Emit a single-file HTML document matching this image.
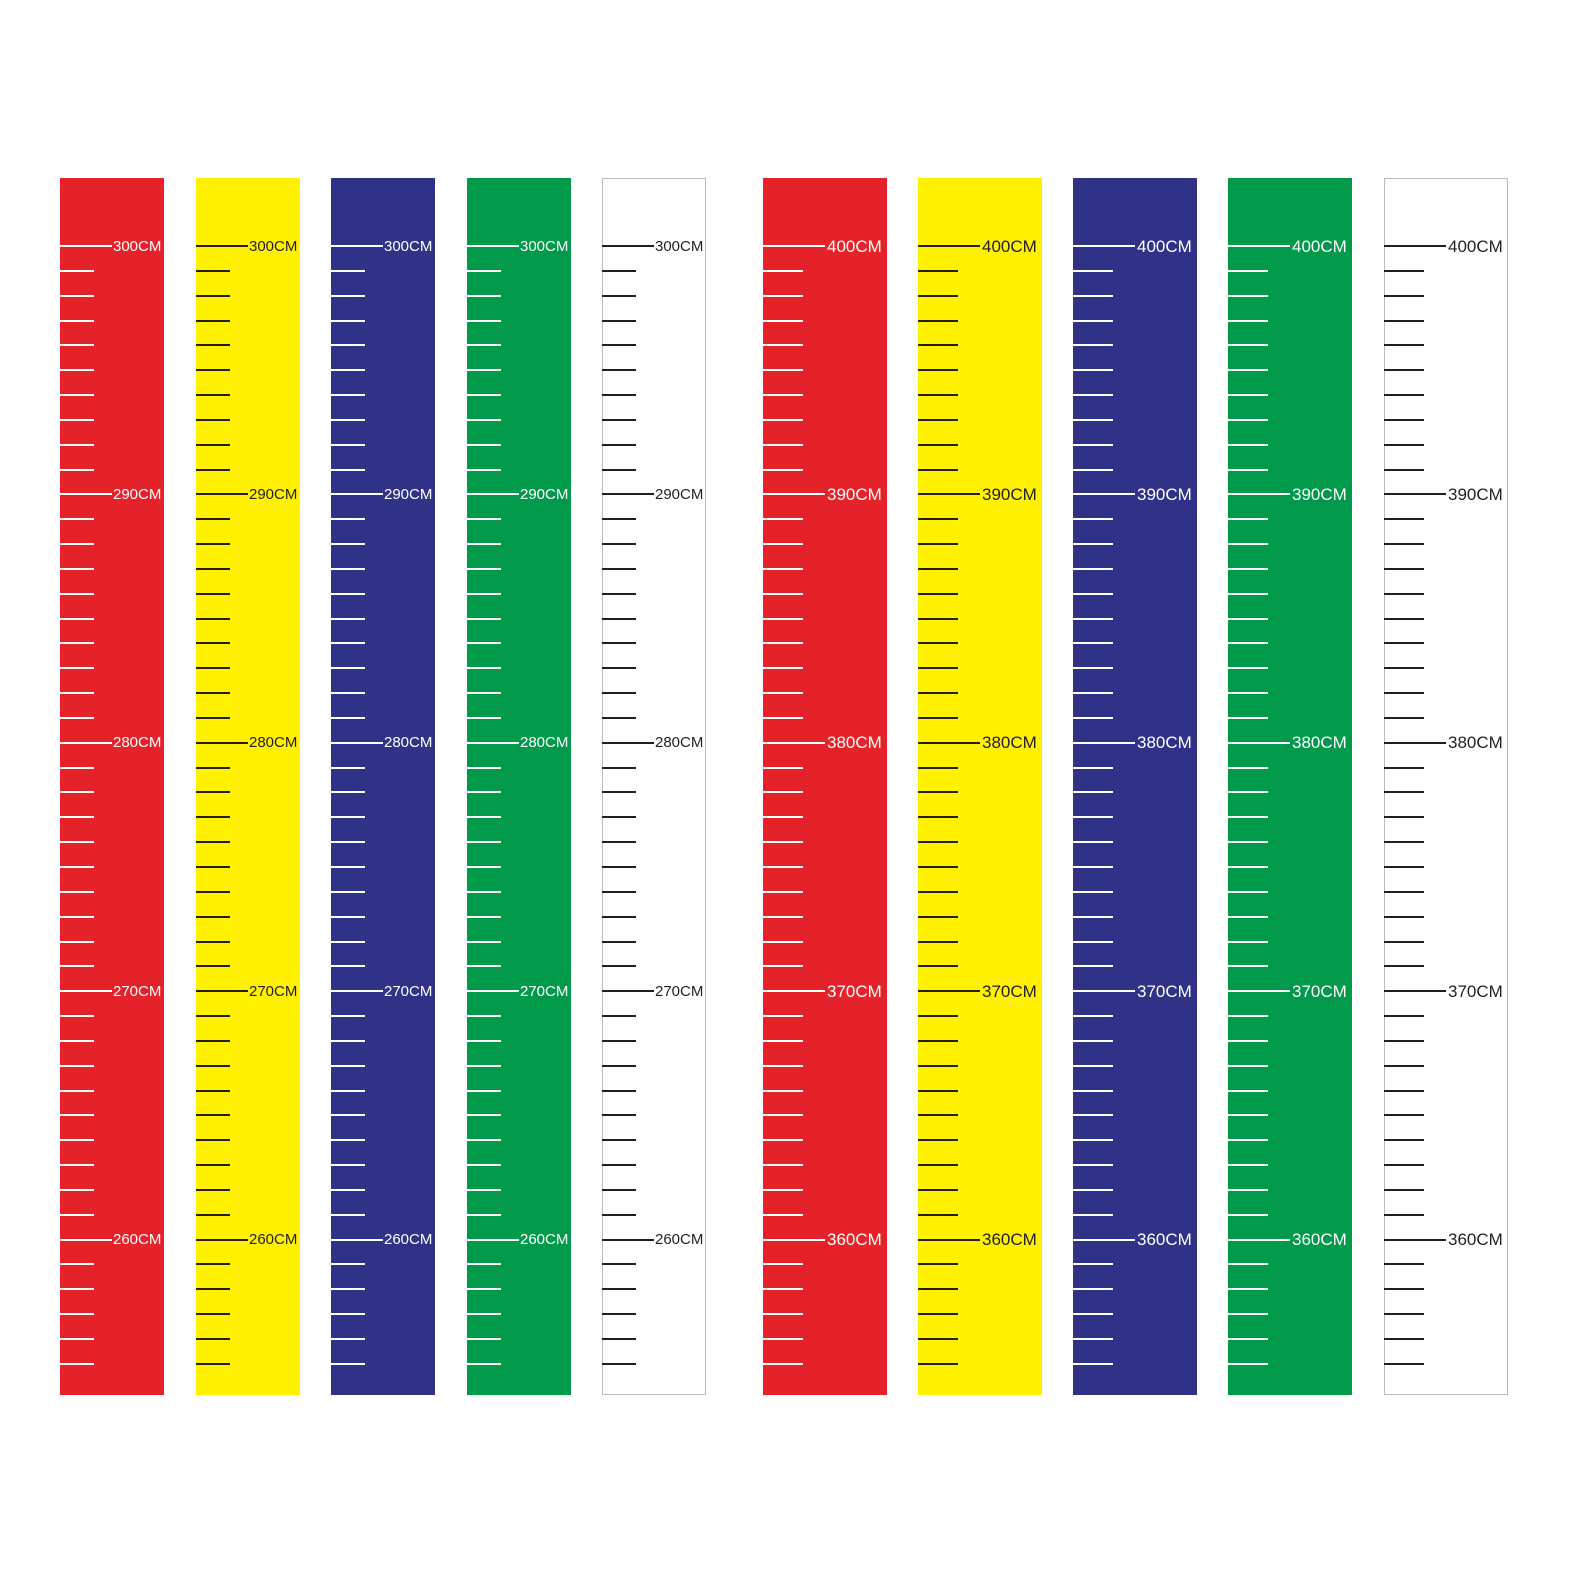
<!DOCTYPE html>
<html><head><meta charset="utf-8"><style>
html,body{margin:0;padding:0;background:#fff}
body{width:1574px;height:1574px;position:relative;overflow:hidden;font-family:"Liberation Sans",sans-serif}
.s{position:absolute;top:178px;height:1217px;box-sizing:border-box}
.m{position:absolute;height:2px}
.l{position:absolute;line-height:1;white-space:nowrap}
</style></head><body>
<div id="root"></div>
<script>
var strips=[
[60,104,'#e52229','#fff',34,52],
[196,104,'#fff100','#231f20',34,52],
[331,104,'#303288','#fff',34,52],
[467,104,'#009a4a','#fff',34,52],
[602,104,'#ffffff','#231f20',34,52],
[763,124,'#e52229','#fff',40,62],
[918,124,'#fff100','#231f20',40,62],
[1073,124,'#303288','#fff',40,62],
[1228,124,'#009a4a','#fff',40,62],
[1384,124,'#ffffff','#231f20',40,62]];
var h='';
strips.forEach(function(s){
 var border=s[2]=='#ffffff'?'border:1px solid #bbb;':'';
 h+='<div class="s" style="left:'+s[0]+'px;width:'+s[1]+'px;background:'+s[2]+';'+border+'"></div>';
 for(var k=0;k<46;k++){
  var y=Math.round(245+k*24.84);
  var w=(k%10==0)?s[5]:s[4];
  h+='<div class="m" style="left:'+s[0]+'px;top:'+y+'px;width:'+w+'px;background:'+s[3]+'"></div>';
 }
});
document.getElementById('root').innerHTML=h;
</script>
<div style="position:absolute;left:0;top:0;color:#fff;font-size:15px">
<span class="l" style="left:113px;top:239px">300CM</span><span class="l" style="left:113px;top:487px">290CM</span><span class="l" style="left:113px;top:735px">280CM</span><span class="l" style="left:113px;top:984px">270CM</span><span class="l" style="left:113px;top:1232px">260CM</span>
<span class="l" style="left:249px;top:239px;color:#231f20">300CM</span><span class="l" style="left:249px;top:487px;color:#231f20">290CM</span><span class="l" style="left:249px;top:735px;color:#231f20">280CM</span><span class="l" style="left:249px;top:984px;color:#231f20">270CM</span><span class="l" style="left:249px;top:1232px;color:#231f20">260CM</span>
<span class="l" style="left:384px;top:239px">300CM</span><span class="l" style="left:384px;top:487px">290CM</span><span class="l" style="left:384px;top:735px">280CM</span><span class="l" style="left:384px;top:984px">270CM</span><span class="l" style="left:384px;top:1232px">260CM</span>
<span class="l" style="left:520px;top:239px">300CM</span><span class="l" style="left:520px;top:487px">290CM</span><span class="l" style="left:520px;top:735px">280CM</span><span class="l" style="left:520px;top:984px">270CM</span><span class="l" style="left:520px;top:1232px">260CM</span>
<span class="l" style="left:655px;top:239px;color:#231f20">300CM</span><span class="l" style="left:655px;top:487px;color:#231f20">290CM</span><span class="l" style="left:655px;top:735px;color:#231f20">280CM</span><span class="l" style="left:655px;top:984px;color:#231f20">270CM</span><span class="l" style="left:655px;top:1232px;color:#231f20">260CM</span>
</div>
<div style="position:absolute;left:0;top:0;color:#fff;font-size:17px">
<span class="l" style="left:827px;top:238px">400CM</span><span class="l" style="left:827px;top:486px">390CM</span><span class="l" style="left:827px;top:734px">380CM</span><span class="l" style="left:827px;top:983px">370CM</span><span class="l" style="left:827px;top:1231px">360CM</span>
<span class="l" style="left:982px;top:238px;color:#231f20">400CM</span><span class="l" style="left:982px;top:486px;color:#231f20">390CM</span><span class="l" style="left:982px;top:734px;color:#231f20">380CM</span><span class="l" style="left:982px;top:983px;color:#231f20">370CM</span><span class="l" style="left:982px;top:1231px;color:#231f20">360CM</span>
<span class="l" style="left:1137px;top:238px">400CM</span><span class="l" style="left:1137px;top:486px">390CM</span><span class="l" style="left:1137px;top:734px">380CM</span><span class="l" style="left:1137px;top:983px">370CM</span><span class="l" style="left:1137px;top:1231px">360CM</span>
<span class="l" style="left:1292px;top:238px">400CM</span><span class="l" style="left:1292px;top:486px">390CM</span><span class="l" style="left:1292px;top:734px">380CM</span><span class="l" style="left:1292px;top:983px">370CM</span><span class="l" style="left:1292px;top:1231px">360CM</span>
<span class="l" style="left:1448px;top:238px;color:#231f20">400CM</span><span class="l" style="left:1448px;top:486px;color:#231f20">390CM</span><span class="l" style="left:1448px;top:734px;color:#231f20">380CM</span><span class="l" style="left:1448px;top:983px;color:#231f20">370CM</span><span class="l" style="left:1448px;top:1231px;color:#231f20">360CM</span>
</div>
</body></html>
